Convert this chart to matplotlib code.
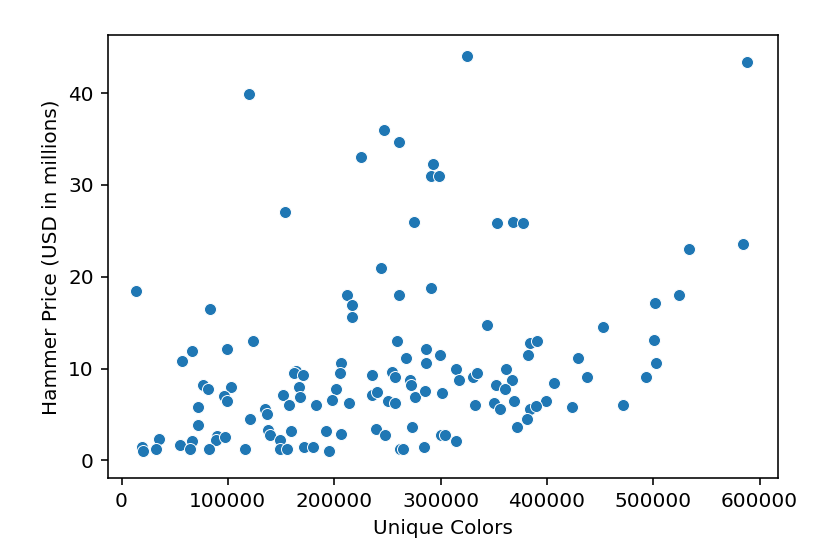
import matplotlib
matplotlib.use("Agg")
import matplotlib.pyplot as plt
import seaborn as sns
import pandas as pd

# unique color count per painting and its hammer price (USD millions)
unique_colors = [
    324900, 588400, 119500, 247300, 260900, 224800, 292700, 290700, 298400,
    153400, 275500, 352800, 367800, 377700, 584400, 533700, 243700, 13700,
    83500, 211900, 217100, 217100, 260900, 291100, 343400, 452800, 524300,
    501800, 501100, 123200, 258700, 384500, 390400, 98800, 66500, 57100,
    206300, 286500, 299800, 267800, 286500, 429600, 502700, 382200,
    314900, 330200, 334300, 361900, 437800, 493200, 164300, 161800, 170300,
    205100, 77100, 81800, 102500, 96600, 98800, 151500, 166500, 168100,
    157100, 183200, 201900, 198200, 72100, 134500, 136400, 121000, 72100,
    138000, 139900, 159000, 192600, 206300, 19100, 19800, 34800, 32600,
    55200, 66500, 64600, 89700, 89100, 97500, 82100, 115700, 149300, 149300,
    155200, 171500, 179700, 194700, 213500, 235800, 254300, 256800, 271600,
    271900, 235800, 240200, 250200, 256800, 275600, 285000, 301700, 317000,
    367500, 352100, 360300, 332100, 350300, 356300, 369400, 407100, 399500,
    384500, 389700, 381000, 371600, 239600, 247400, 273400, 300500, 304000,
    314500, 261500, 265000, 284800, 424000, 471300,
]
hammer_price = [
    44.0, 43.4, 39.9, 36.0, 34.7, 33.0, 32.3, 31.0, 31.0,
    27.1, 26.0, 25.8, 26.0, 25.8, 23.6, 23.0, 21.0, 18.4,
    16.45, 17.97, 16.9, 15.6, 17.97, 18.8, 14.7, 14.5, 17.97,
    17.1, 13.15, 12.97, 12.97, 12.75, 12.97, 12.1, 11.9, 10.8,
    10.6, 12.1, 11.5, 11.2, 10.6, 11.2, 10.6, 11.5,
    9.97, 9.05, 9.5, 9.97, 9.06, 9.06, 9.7, 9.5, 9.3,
    9.5, 8.2, 7.75, 8.0, 6.96, 6.45, 7.1, 8.0, 6.9,
    6.0, 6.0, 7.75, 6.6, 5.8, 5.6, 5.1, 4.5, 3.84,
    3.3, 2.75, 3.2, 3.2, 2.9, 1.49, 0.98, 2.36, 1.23,
    1.63, 2.14, 1.23, 2.6, 2.17, 2.53, 1.23, 1.23, 2.17, 1.23,
    1.23, 1.45, 1.45, 0.98, 6.2, 9.27, 9.6, 9.05, 8.7,
    8.2, 7.1, 7.4, 6.5, 6.2, 6.85, 7.5, 7.3, 8.8,
    8.8, 8.2, 7.75, 5.98, 6.27, 5.6, 6.45, 8.44, 6.45,
    5.6, 5.87, 4.46, 3.59, 3.4, 2.75, 3.59, 2.75, 2.75,
    2.07, 1.23, 1.23, 1.45, 5.8, 6.0,
]

df = pd.DataFrame({"Unique Colors": unique_colors,
                   "Hammer Price (USD in millions)": hammer_price})

fig = plt.figure(figsize=(822 / 144, 560 / 144), dpi=144)
ax = fig.add_axes([0.131, 0.146, 0.815, 0.791])
sns.scatterplot(data=df, x="Unique Colors", y="Hammer Price (USD in millions)", ax=ax)
ax.set_xlim(-13000, 617000)
ax.set_ylim(-1.95, 46.3)
ax.set_xticks([0, 100000, 200000, 300000, 400000, 500000, 600000])
ax.set_yticks([0, 10, 20, 30, 40])

fig.savefig("out.png", dpi=144)
